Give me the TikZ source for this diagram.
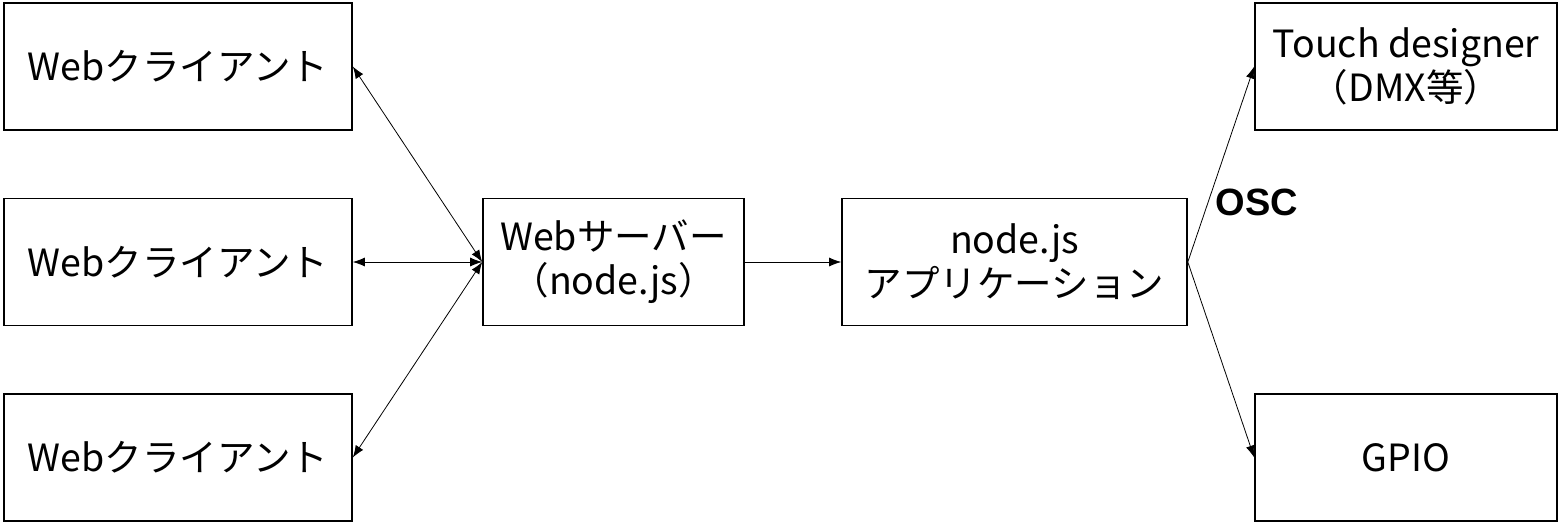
\documentclass[tikz,border=0pt]{standalone}
\usepackage{fontspec}
\setmainfont{Noto Sans CJK JP}
\newfontfamily\oscfont{Liberation Sans}
\usetikzlibrary{arrows.meta,shapes}
\tikzstyle{block}=[draw,line width=1.6pt,minimum height=127pt,inner sep=0pt,align=center,font=\fontsize{37.5}{44}\selectfont]
\tikzstyle{edge} = [draw,line width=0.8pt,-{Latex[length=12pt,width=9pt]}]
\tikzstyle{bothedge} = [draw,line width=0.8pt,{Latex[length=12pt,width=9pt]}-{Latex[length=12pt,width=9pt]}]
\tikzstyle{label} = [font=\oscfont\bfseries\fontsize{38}{44}\selectfont]
\begin{document}
\begin{tikzpicture}[x=1pt,y=-1pt]
    \useasboundingbox (0,0) rectangle (1566,525);
    % clients on the left
    \foreach \pos/ \name in {{(178,66.5)/C1},{(178,262)/C2},{(178,457.5)/C3}}
        \node[block,minimum width=348pt] (\name) at \pos {Webクライアント};

    % server, application and outputs
    \node[block,minimum width=261pt] (S) at (613.5,262) {Webサーバー\\（node.js）};
    \node[block,minimum width=345pt] (A) at (1014.5,262) {node.js\\アプリケーション};
    \node[block,minimum width=302pt] (T) at (1406,66.5) {Touch designer\\（DMX等）};
    \node[block,minimum width=302pt] (G) at (1406,457.5) {GPIO};

    % connect the boxes
    \foreach \source in {C1,C2,C3}
        \path[bothedge] (\source.east) -- (S.west);
    \path[edge] (S) -- (A);
    \foreach \dest in {T,G}
        \path[edge] (A.east) -- (\dest.west);

    \node[label,anchor=west] (osc) at (1212,202) {OSC};
\end{tikzpicture}
\end{document}
